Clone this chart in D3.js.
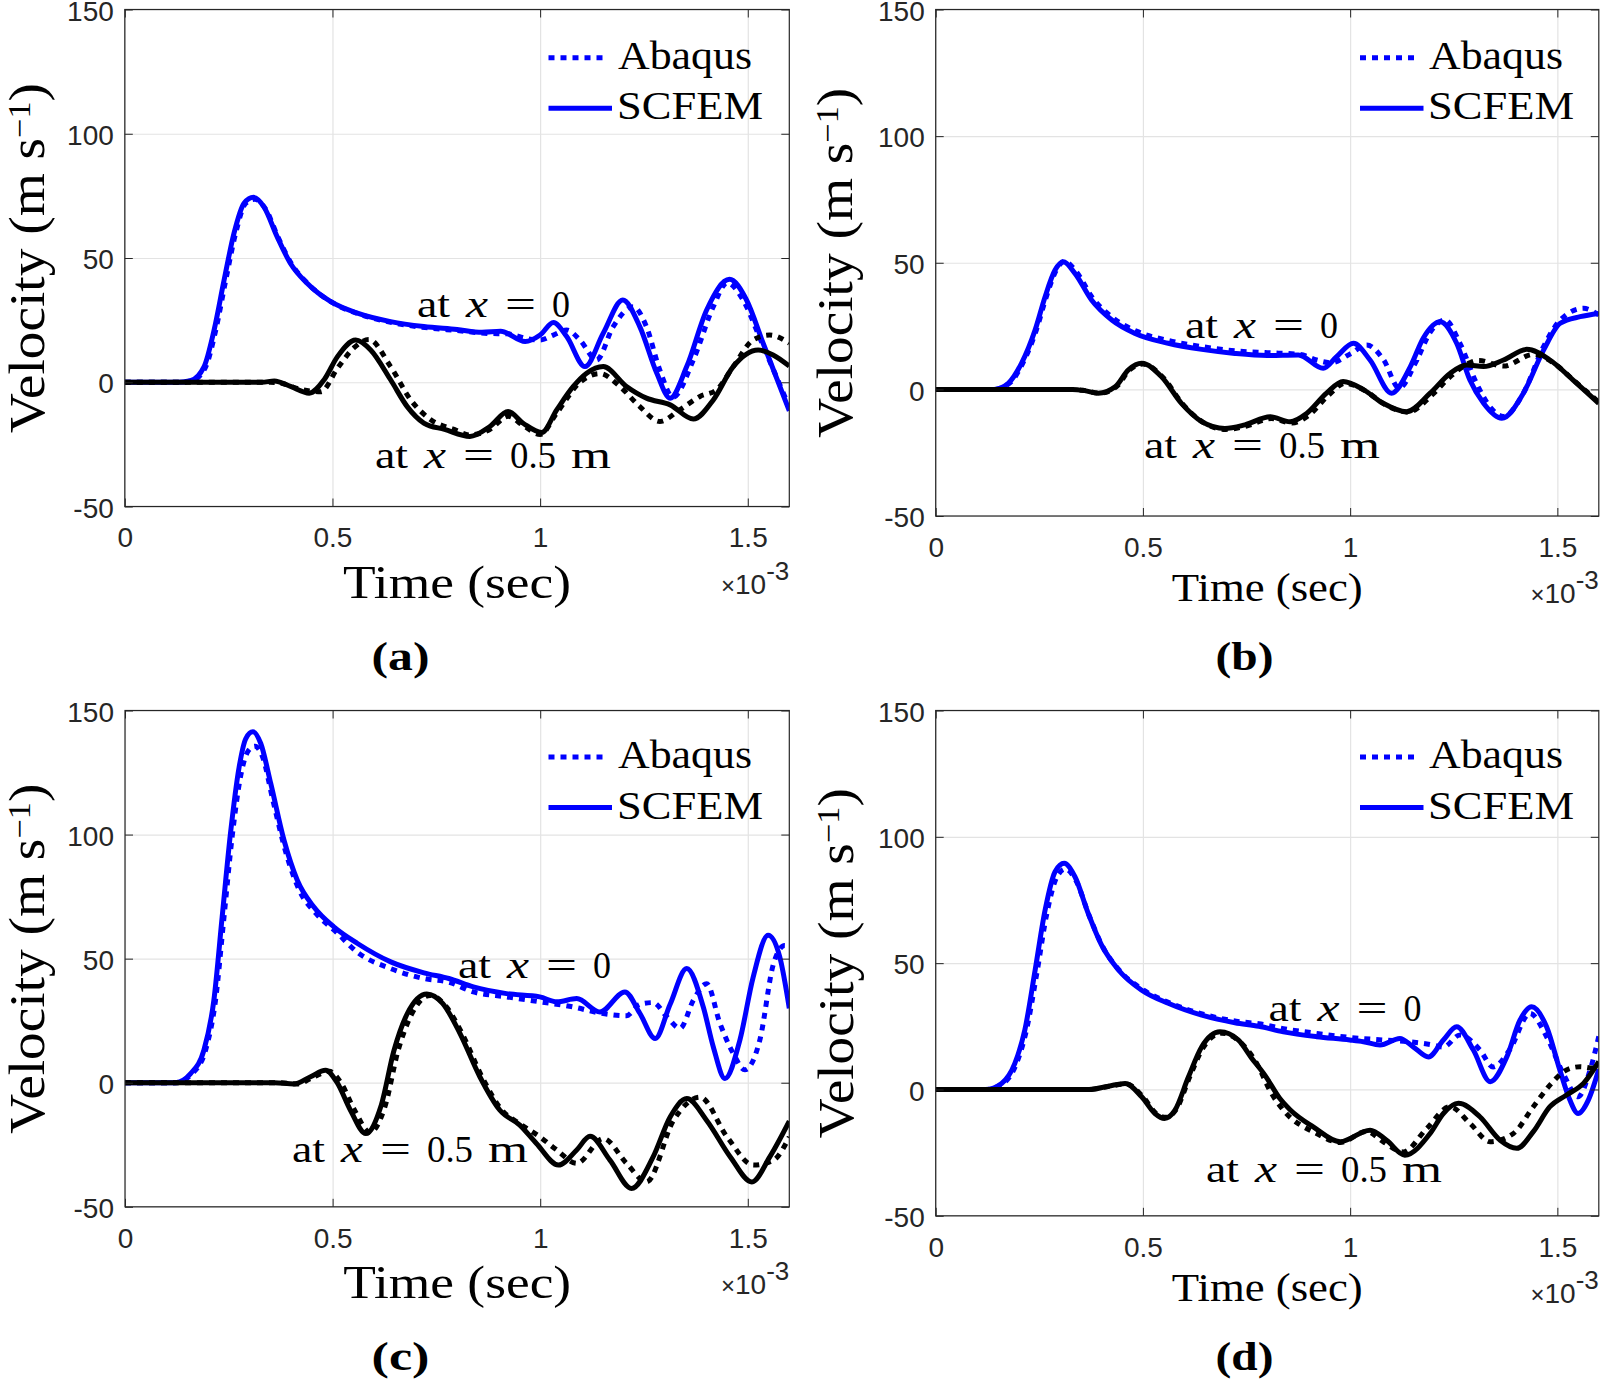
<!DOCTYPE html>
<html>
<head>
<meta charset="utf-8">
<script src="https://cdn.jsdelivr.net/npm/d3@7"></script>
<style>
  body { margin: 0; background: #fff; }
  .tick text { font-family: "Liberation Sans", Arial, Helvetica, sans-serif; font-size: 28px; fill: #262626; }
  .serif { font-family: "Liberation Serif", "Times New Roman", serif; fill: #000; }
</style>
</head>
<body>
<svg id="chart" width="1603" height="1383"></svg>
<script>
// time in ms (axis shows x10^-3 s), velocity in m/s
const xTicks = [0, 0.5, 1, 1.5];
const yTicks = [-50, 0, 50, 100, 150];
const legendLabels = ['Abaqus', 'SCFEM'];
const panelTags = ['(a)', '(b)', '(c)', '(d)'];

// panel (a)
const aBlueAbaqus = [[0,0],[0.13,0],[0.162,0.6],[0.195,6.3],[0.219,21],[0.243,41],[0.267,60],[0.291,72],[0.313,73.6],[0.338,70],[0.370,58],[0.402,47.5],[0.442,39.5],[0.50,32],[0.563,27.5],[0.643,24],[0.723,22],[0.80,20.8],[0.88,19.6],[0.92,19.5],[0.97,17.5],[1.0,17],[1.032,19],[1.064,21],[1.096,17],[1.136,9],[1.176,22.4],[1.224,30.4],[1.256,22.4],[1.288,5],[1.320,-6],[1.369,9],[1.417,30.4],[1.450,40],[1.489,33],[1.529,17.8],[1.6,-10]];
const aBlueSCFEM = [[0,0],[0.13,0],[0.158,0.6],[0.191,6.3],[0.215,21],[0.239,41],[0.263,60],[0.287,72],[0.310,74.4],[0.335,70.6],[0.367,58.5],[0.399,47.8],[0.439,39.8],[0.496,32.4],[0.560,27.8],[0.640,24.4],[0.720,22.4],[0.80,21.2],[0.86,20.1],[0.905,20.5],[0.964,16.4],[1.0,19],[1.032,24],[1.064,18.4],[1.108,6.3],[1.152,19.7],[1.199,33.1],[1.240,22.4],[1.281,3.6],[1.313,-6.4],[1.353,6.3],[1.401,29.1],[1.456,41.4],[1.497,33.1],[1.537,15.7],[1.6,-11.5]];
const aBlackAbaqus = [[0,0],[0.35,0],[0.38,-0.5],[0.415,-2.5],[0.472,-3.8],[0.512,5.6],[0.552,13.9],[0.588,17.2],[0.640,6.3],[0.688,-7],[0.736,-15],[0.793,-19],[0.831,-21.2],[0.879,-19],[0.923,-13.7],[0.96,-17.5],[1.0,-21],[1.040,-12.4],[1.096,0],[1.144,3.5],[1.192,-1.7],[1.240,-9.8],[1.288,-15.8],[1.336,-11.1],[1.385,-5.7],[1.425,-3],[1.465,6.3],[1.513,17],[1.553,19],[1.6,15.7]];
const aBlackSCFEM = [[0,0],[0.33,0],[0.36,0.5],[0.399,-1.7],[0.444,-4.4],[0.480,1],[0.512,10.3],[0.556,17],[0.592,13],[0.640,1],[0.680,-9.8],[0.720,-16.4],[0.77,-19],[0.831,-21.8],[0.879,-17.8],[0.923,-11.8],[0.960,-16.6],[1.004,-20.2],[1.040,-11.1],[1.080,-1.7],[1.112,3.6],[1.152,6.3],[1.208,-1.7],[1.256,-6.4],[1.313,-9.1],[1.369,-14.8],[1.417,-7.1],[1.465,6.3],[1.525,13],[1.561,11],[1.6,6.5]];

// panel (b)
const bBlueAbaqus = [[0,0],[0.14,0],[0.178,2.4],[0.210,10.3],[0.243,23.5],[0.267,36.6],[0.291,47.1],[0.311,50.6],[0.339,46.5],[0.379,36],[0.428,28.2],[0.484,23],[0.564,19.2],[0.645,16.8],[0.725,15.2],[0.80,14.5],[0.88,13.8],[0.919,11.6],[0.955,10.5],[1.0,14],[1.040,17.5],[1.081,11.6],[1.118,0.5],[1.161,11.6],[1.193,22.5],[1.229,27.4],[1.265,18.2],[1.305,2.4],[1.337,-6.8],[1.370,-10.7],[1.418,-1.5],[1.467,17],[1.507,27.4],[1.563,32],[1.6,29.4]];
const bBlueSCFEM = [[0,0],[0.14,0],[0.175,2.4],[0.207,10.3],[0.240,23.5],[0.264,36.6],[0.288,47.1],[0.308,50.4],[0.336,45.8],[0.376,35.3],[0.425,27.4],[0.481,22.1],[0.561,18.2],[0.642,15.8],[0.722,14.2],[0.80,13.4],[0.875,13.6],[0.935,8.3],[0.968,13],[1.008,18.2],[1.048,11.6],[1.100,-1.5],[1.145,8.9],[1.177,20.4],[1.217,26.7],[1.257,18.2],[1.289,3.7],[1.322,-5.5],[1.366,-11.4],[1.418,-1.5],[1.467,15.6],[1.507,26.1],[1.555,28.7],[1.6,30]];
const bBlackAbaqus = [[0,0],[0.33,0],[0.36,-0.5],[0.395,-1.5],[0.436,1],[0.468,7.7],[0.500,10],[0.548,4.8],[0.596,-5.8],[0.645,-13],[0.70,-15.8],[0.75,-14.5],[0.81,-11.5],[0.86,-13.3],[0.90,-10.3],[0.948,-2.3],[0.988,2.4],[1.036,-0.5],[1.084,-6],[1.14,-9],[1.197,-2.3],[1.245,5.5],[1.29,10.6],[1.31,11.4],[1.37,9.2],[1.442,13.8],[1.49,10.5],[1.542,3.2],[1.6,-5]];
const bBlackSCFEM = [[0,0],[0.33,0],[0.36,-0.5],[0.392,-1.5],[0.433,1],[0.465,7.7],[0.497,10.3],[0.545,5],[0.593,-5.5],[0.642,-12.7],[0.698,-15.4],[0.746,-14],[0.807,-10.8],[0.855,-12.8],[0.895,-9.5],[0.943,-1.5],[0.983,3.1],[1.032,-0.1],[1.080,-5.5],[1.136,-8.8],[1.193,-1.5],[1.241,6.3],[1.281,9.6],[1.322,9],[1.370,11.6],[1.426,15.8],[1.482,11.6],[1.538,3.7],[1.6,-5.5]];

// panel (c)
const cBlueAbaqus = [[0,0],[0.12,0],[0.162,3.7],[0.194,13.1],[0.218,33.2],[0.238,66],[0.258,99],[0.279,124],[0.296,133.5],[0.313,135.6],[0.332,131],[0.356,114],[0.388,92.4],[0.420,77.5],[0.461,68],[0.510,60.5],[0.560,52.5],[0.640,46],[0.720,42],[0.78,40.5],[0.839,36.6],[0.919,34.6],[0.999,32.6],[1.080,30.5],[1.144,28.1],[1.208,27],[1.240,31.6],[1.272,32.3],[1.305,26.6],[1.337,21.9],[1.369,33.3],[1.401,39.9],[1.433,23.9],[1.465,11.8],[1.493,5.2],[1.529,17.2],[1.562,48],[1.589,55.3],[1.6,54.6]];
const cBlueSCFEM = [[0,0],[0.12,0],[0.158,3.7],[0.190,13.1],[0.214,33.2],[0.234,66.8],[0.254,100.4],[0.275,127.3],[0.291,138.7],[0.308,141.4],[0.327,136.7],[0.351,120.6],[0.383,97.7],[0.415,81.6],[0.455,70.8],[0.503,62.8],[0.560,56.1],[0.640,48.7],[0.720,44.3],[0.78,42],[0.839,38.6],[0.919,35.9],[0.999,34.6],[1.040,32.6],[1.088,33.9],[1.144,28.5],[1.204,36.6],[1.240,28],[1.277,17.8],[1.313,31.6],[1.353,46],[1.393,30.4],[1.417,14.4],[1.445,1.7],[1.481,17.2],[1.513,42.6],[1.549,59.4],[1.577,50.7],[1.6,30]];
const cBlackAbaqus = [[0,0],[0.37,0],[0.415,-0.5],[0.455,2.4],[0.492,4.6],[0.52,0],[0.553,-11.1],[0.590,-20],[0.626,-9.7],[0.658,13.1],[0.690,27.5],[0.735,35.2],[0.772,31],[0.812,19.8],[0.86,2.3],[0.908,-11.1],[0.951,-16.5],[1.0,-21.9],[1.040,-27.1],[1.088,-32.5],[1.152,-22.5],[1.208,-32.5],[1.256,-40],[1.321,-15.2],[1.385,-5.8],[1.450,-21.8],[1.514,-33.2],[1.562,-31.2],[1.6,-21.8]];
const cBlackSCFEM = [[0,0],[0.36,0],[0.407,-0.5],[0.447,2.4],[0.483,5],[0.511,0],[0.543,-11.1],[0.580,-20.5],[0.616,-9.7],[0.648,13.1],[0.680,27.9],[0.727,35.8],[0.765,32],[0.807,19.8],[0.855,2.3],[0.903,-11.1],[0.951,-17.1],[0.991,-24.5],[1.044,-33.2],[1.088,-27.1],[1.120,-21.6],[1.168,-31.2],[1.220,-42.6],[1.272,-29.9],[1.313,-13.8],[1.353,-6.4],[1.401,-15.2],[1.458,-29.9],[1.510,-40],[1.553,-29.9],[1.6,-15.5]];

// panel (d)
const dBlueAbaqus = [[0,0],[0.12,0],[0.163,2.4],[0.195,10.3],[0.219,23.5],[0.244,46],[0.268,69.5],[0.292,84],[0.313,87.3],[0.339,82.5],[0.371,68.5],[0.403,56.5],[0.444,47],[0.50,39.5],[0.564,34.3],[0.645,29.8],[0.725,27],[0.78,26],[0.839,24.1],[0.919,22.2],[0.999,20.6],[1.080,19.6],[1.136,19],[1.200,17.6],[1.225,16.8],[1.265,21.6],[1.313,15.7],[1.345,8.9],[1.385,15.7],[1.434,30.1],[1.474,20.9],[1.514,6.4],[1.550,-2.9],[1.579,7.7],[1.6,21]];
const dBlueSCFEM = [[0,0],[0.12,0],[0.159,2.4],[0.191,10.3],[0.215,23.5],[0.240,47.3],[0.264,71],[0.288,86.2],[0.310,89.5],[0.336,84.2],[0.368,69.7],[0.400,57.2],[0.441,47.3],[0.497,39.3],[0.561,34.1],[0.642,29.4],[0.722,26.4],[0.78,25],[0.839,22.8],[0.919,20.9],[0.999,19.6],[1.032,18.9],[1.072,17.6],[1.120,20.2],[1.152,16.9],[1.189,12.9],[1.225,19.6],[1.257,24.8],[1.297,15.7],[1.338,3.1],[1.378,12.9],[1.410,27.5],[1.438,32.7],[1.474,24.8],[1.506,7.7],[1.530,-4.1],[1.550,-9.5],[1.575,-4.1],[1.6,8]];
const dBlackAbaqus = [[0,0],[0.37,0],[0.42,1.3],[0.46,2.2],[0.50,-2.9],[0.532,-9.5],[0.555,-11],[0.58,-8],[0.613,5],[0.645,16.5],[0.690,22.3],[0.733,19],[0.774,10.5],[0.81,-1.5],[0.839,-8.2],[0.919,-17.4],[0.976,-21],[1.040,-16.6],[1.080,-20.7],[1.128,-24.7],[1.185,-15.4],[1.241,-6.8],[1.289,-13.4],[1.338,-20.7],[1.394,-17.4],[1.442,-6.8],[1.482,1.7],[1.522,7.7],[1.555,9],[1.587,8.4],[1.6,9]];
const dBlackSCFEM = [[0,0],[0.37,0],[0.417,1.3],[0.457,2.4],[0.497,-2.9],[0.529,-9.5],[0.552,-11.5],[0.577,-8.3],[0.610,5],[0.642,16.9],[0.686,22.8],[0.730,19.6],[0.762,12.5],[0.795,5.5],[0.83,-3.5],[0.855,-8],[0.911,-14.8],[0.976,-20.7],[1.048,-16.1],[1.088,-20.1],[1.132,-26],[1.193,-17.4],[1.225,-9.5],[1.261,-5.5],[1.313,-10.8],[1.362,-20.1],[1.402,-23.3],[1.442,-16.7],[1.482,-6.8],[1.522,-2.2],[1.563,2.4],[1.6,11]];

// where each panel sits on the page
const panels = [
  {tag: panelTags[0], left: 124.8, right: 789.3, top: 9.5, bottom: 506.5, timeW: 228, timeFs: 47, timeDy: 91, ylabX: 43.5,
   legLineX: 548.5, legTextX: 618, legY: 57.7, ann0: [417, 317.4], ann5: [375, 467.5], tagX: 400.5, tagY: 670,
   series: [aBlueAbaqus, aBlueSCFEM, aBlackAbaqus, aBlackSCFEM]},
  {tag: panelTags[1], left: 935.7, right: 1598.8, top: 9.5, bottom: 516, timeW: 191, timeFs: 39, timeDy: 85, ylabX: 852,
   legLineX: 1360, legTextX: 1429, legY: 57.7, ann0: [1185, 338], ann5: [1144, 457.5], tagX: 1244.5, tagY: 670,
   series: [bBlueAbaqus, bBlueSCFEM, bBlackAbaqus, bBlackSCFEM]},
  {tag: panelTags[2], left: 125, right: 789.3, top: 710.5, bottom: 1206.8, timeW: 228, timeFs: 47, timeDy: 91, ylabX: 43.5,
   legLineX: 548.5, legTextX: 618, legY: 757, ann0: [458, 978], ann5: [292, 1162], tagX: 400.5, tagY: 1370,
   series: [cBlueAbaqus, cBlueSCFEM, cBlackAbaqus, cBlackSCFEM]},
  {tag: panelTags[3], left: 935.7, right: 1598.8, top: 710.5, bottom: 1215.8, timeW: 191, timeFs: 39, timeDy: 85, ylabX: 852.7,
   legLineX: 1360, legTextX: 1429, legY: 757, ann0: [1268.5, 1020.7], ann5: [1206, 1182], tagX: 1244.5, tagY: 1370,
   series: [dBlueAbaqus, dBlueSCFEM, dBlackAbaqus, dBlackSCFEM]}
];

const styles = [
  {color: '#0000ff', dash: '6 6'},
  {color: '#0000ff', dash: null},
  {color: '#000000', dash: '6 6'},
  {color: '#000000', dash: null}
];

const svg = d3.select('#chart');
svg.append('rect').attr('width', 1603).attr('height', 1383).attr('fill', '#fff');
const defs = svg.append('defs');

// one serif piece with a forced advance width (Computer Modern is wider than Times)
function piece(g, txt, x, y, fs, len, italic) {
  g.append('text').attr('class', 'serif')
    .attr('x', x).attr('y', y)
    .attr('font-size', fs)
    .attr('font-style', italic ? 'italic' : null)
    .attr('textLength', len).attr('lengthAdjust', 'spacingAndGlyphs')
    .text(txt);
}

function annotate(g, pos, half) {
  let [x0, y0] = pos;
  piece(g, 'at', x0, y0, 38, 33);
  piece(g, 'x', x0 + 49, y0, 38, 22, true);
  piece(g, '=', x0 + 88, y0, 38, 31);
  if (half) {
    piece(g, '0.5', x0 + 135, y0, 38, 46);
    piece(g, 'm', x0 + 196, y0, 38, 40);
  } else {
    piece(g, '0', x0 + 135, y0, 38, 18);
  }
}

panels.forEach((p, i) => {
  let x = d3.scaleLinear().domain([0, 1.6]).range([p.left, p.right]);
  let y = d3.scaleLinear().domain([-50, 150]).range([p.bottom, p.top]);
  let w = p.right - p.left, h = p.bottom - p.top;
  let g = svg.append('g');

  // grid
  g.append('g').attr('transform', `translate(0,${p.bottom})`)
    .call(d3.axisBottom(x).tickValues(xTicks).tickSize(-h).tickFormat(''))
    .call(a => a.select('.domain').remove())
    .selectAll('line').attr('stroke', '#e3e3e3').attr('stroke-width', 1.2);
  g.append('g').attr('transform', `translate(${p.left},0)`)
    .call(d3.axisLeft(y).tickValues(yTicks).tickSize(-w).tickFormat(''))
    .call(a => a.select('.domain').remove())
    .selectAll('line').attr('stroke', '#e3e3e3').attr('stroke-width', 1.2);

  // curves
  let clipId = 'clip' + i;
  defs.append('clipPath').attr('id', clipId).append('rect')
    .attr('x', p.left).attr('y', p.top).attr('width', w).attr('height', h);
  let line = d3.line().x(d => x(d[0])).y(d => y(d[1])).curve(d3.curveMonotoneX);
  let lines = g.append('g').attr('clip-path', `url(#${clipId})`);
  p.series.forEach((s, k) => {
    lines.append('path').datum(s)
      .attr('d', line)
      .attr('fill', 'none')
      .attr('stroke', styles[k].color)
      .attr('stroke-width', 5)
      .attr('stroke-linejoin', 'round')
      .attr('stroke-dasharray', styles[k].dash);
  });

  // axes, ticks pointing inward on all four sides
  g.append('g').attr('transform', `translate(0,${p.bottom})`)
    .call(d3.axisBottom(x).tickValues(xTicks).tickSize(-8).tickPadding(21).tickFormat(d => String(d)));
  let yAx = g.append('g').attr('transform', `translate(${p.left},0)`)
    .call(d3.axisLeft(y).tickValues(yTicks).tickSize(-8).tickPadding(11).tickFormat(d => String(d)));
  yAx.selectAll('text').attr('dy', '0.38em');
  g.append('g').attr('transform', `translate(0,${p.top})`)
    .call(d3.axisTop(x).tickValues(xTicks).tickSize(-8).tickFormat(''));
  g.append('g').attr('transform', `translate(${p.right},0)`)
    .call(d3.axisRight(y).tickValues(yTicks).tickSize(-8).tickFormat(''));
  g.selectAll('.domain').remove();
  g.selectAll('.tick line').filter(function () { return +this.getAttribute('stroke-width') !== 1.2; })
    .attr('stroke', '#262626');
  g.append('rect').attr('x', p.left).attr('y', p.top).attr('width', w).attr('height', h)
    .attr('fill', 'none').attr('stroke', '#262626').attr('stroke-width', 1.2);

  // x10^-3 multiplier
  let ex = g.append('text').attr('x', p.right).attr('y', p.bottom + 87)
    .attr('text-anchor', 'end')
    .style('font-family', '"Liberation Sans", Arial, sans-serif').attr('fill', '#262626');
  ex.append('tspan').attr('font-size', 24).text('\u00d7');
  ex.append('tspan').attr('font-size', 28).text('10');
  ex.append('tspan').attr('font-size', 26).attr('dy', -14).text('-3');

  // axis titles
  g.append('text').attr('class', 'serif')
    .attr('x', (p.left + p.right) / 2).attr('y', p.bottom + p.timeDy)
    .attr('text-anchor', 'middle').attr('font-size', p.timeFs)
    .attr('textLength', p.timeW).attr('lengthAdjust', 'spacingAndGlyphs')
    .text('Time (sec)');
  let yl = g.append('text').attr('class', 'serif')
    .attr('transform', `translate(${p.ylabX},${(p.top + p.bottom) / 2}) rotate(-90)`)
    .attr('text-anchor', 'middle').attr('font-size', 50)
    .attr('textLength', 350).attr('lengthAdjust', 'spacingAndGlyphs');
  yl.append('tspan').text('Velocity (m s');
  yl.append('tspan').attr('font-size', 31).attr('dy', -14).text('\u22121');
  yl.append('tspan').attr('dy', 14).text(')');

  // legend, no box
  let lg = g.append('g');
  [0, 1].forEach(k => {
    let ly = p.legY + k * 50.5;
    lg.append('line')
      .attr('x1', p.legLineX).attr('x2', p.legLineX + (k ? 63.5 : 58.5))
      .attr('y1', ly).attr('y2', ly)
      .attr('stroke', styles[k].color).attr('stroke-width', 5)
      .attr('stroke-dasharray', styles[k].dash);
    piece(lg, legendLabels[k], p.legTextX - k, ly + 11, 41, k ? 146 : 134);
  });

  // curve annotations
  annotate(g, p.ann0, false);
  annotate(g, p.ann5, true);

  // panel tag
  g.append('text').attr('class', 'serif')
    .attr('x', p.tagX).attr('y', p.tagY)
    .attr('text-anchor', 'middle').attr('font-size', 41).attr('font-weight', 'bold')
    .attr('textLength', 58).attr('lengthAdjust', 'spacingAndGlyphs')
    .text(p.tag);
});
</script>
</body>
</html>
